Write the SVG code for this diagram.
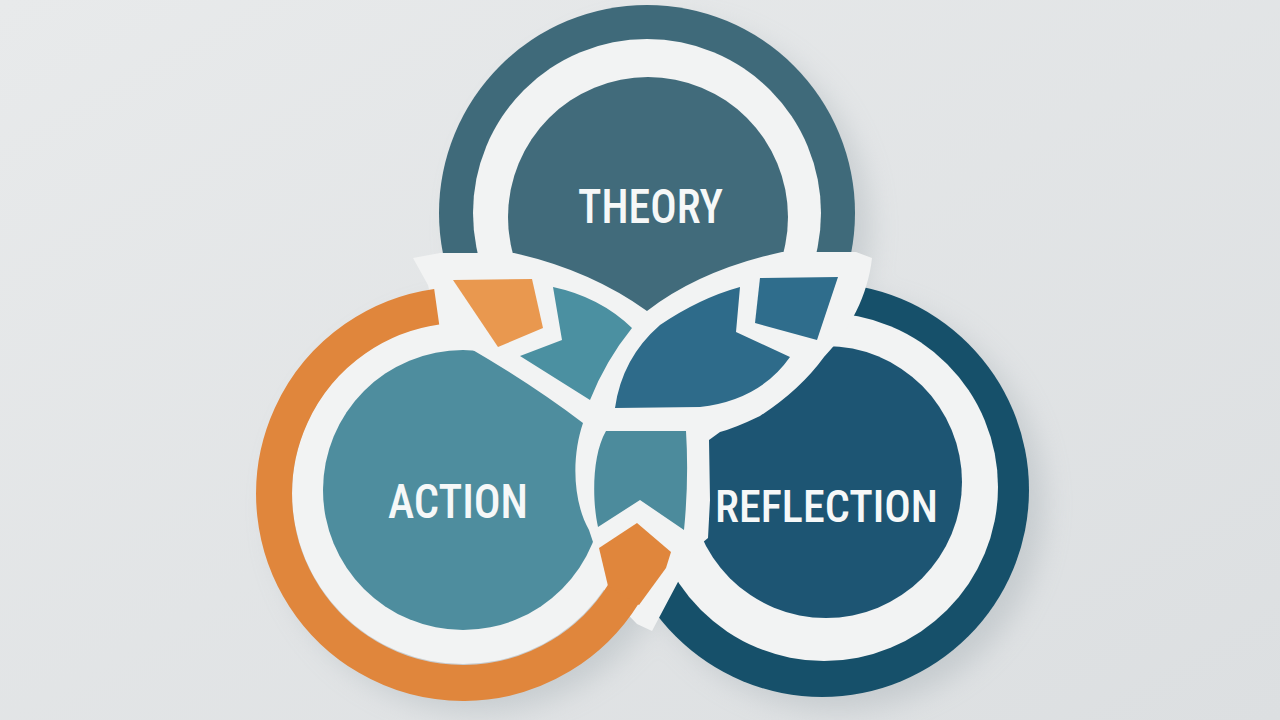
<svg xmlns="http://www.w3.org/2000/svg" width="1280" height="720" viewBox="0 0 1280 720">
<defs>
  <linearGradient id="bg" x1="0" y1="0" x2="1" y2="1">
    <stop offset="0" stop-color="#e8eaeb"/>
    <stop offset="1" stop-color="#dcdfe1"/>
  </linearGradient>
  <filter id="sh" x="-30%" y="-30%" width="160%" height="160%">
    <feGaussianBlur stdDeviation="14"/>
  </filter>
</defs>
<style>
  .white{fill:#f2f3f3}
  .lbl{font-family:"Roboto Condensed","Liberation Sans Narrow","DejaVu Sans Condensed",Roboto,"Liberation Sans",sans-serif;font-weight:500;fill:#f6f8f8;text-anchor:start}
</style>
<rect width="1280" height="720" fill="url(#bg)"/>
<g id="shadows" filter="url(#sh)" fill="#9aa4aa" opacity="0.35">
  <circle cx="838" cy="504" r="206"/>
  <circle cx="478" cy="508" r="204"/>
  <circle cx="664" cy="228" r="206"/>
</g>
<g id="node-reflection">
  <circle cx="822" cy="490" r="207" fill="#16506a"/>
  <circle class="white" cx="824" cy="487" r="174"/>
  <circle cx="826" cy="482" r="136" fill="#1d5573"/>
</g>
<g id="node-action">
  <circle class="white" cx="463" cy="493" r="171"/>
  <circle cx="463" cy="490" r="140" fill="#4e8d9e"/>
</g>
<g id="node-theory">
  <circle cx="647" cy="213" r="208" fill="#3f6a7a"/>
  <circle class="white" cx="647" cy="213" r="174"/>
  <circle cx="648" cy="217" r="140" fill="#416b7b"/>
</g>
<g id="connectors">
  <path id="overlap-white" class="white" d="M413,258 L440,253 L514,253 Q590,270 647,311 Q700,270 782,252 L856,252 L872,258 C868,295 850,330 824,357 Q800,390 760,416 Q735,428 720,432 L709,440 L710,500 L708,538 L696,548 L652,631 L637,624 L604,590 L594,545 L589,530 C572,500 572,455 583,423 Q530,383 466,346 L440,336 L428,285 Z"/>
  <path id="lens-left" d="M553,287 Q600,297 632,328 Q606,360 590,400 Q555,378 520,356 L562,340 Z" fill="#4b90a1"/>
  <path id="lens-right" d="M660,325 Q700,298 740,287 L736,332 L790,357 Q760,400 700,407 L615,408 Q622,358 660,325 Z" fill="#2e6b8a"/>
  <path id="center" d="M606,431 L686,431 Q689,480 684,530 L640,500 L598,527 C592,500 592,455 606,431 Z" fill="#4c8b9c"/>
  <path id="tail-orange" d="M453,280 L532,279 L543,328 L498,347 Z" fill="#e9984f"/>
  <path id="tail-blue" d="M760,278 L838,277 L817,340 L755,323 Z" fill="#2f6d8c"/>
  <path id="ring-orange" d="M623.3,594.2 A189,189 0 1 1 436.7,306.8" fill="none" stroke="#e0863c" stroke-width="36"/>
  <path id="head-orange" d="M599,548 L637,523 L671,552 L666,568 L639,605 L608,586 Z" fill="#e0863c"/>
</g>
<g id="labels">
  <text class="lbl" x="578" y="223" font-size="49" textLength="145" lengthAdjust="spacingAndGlyphs">THEORY</text>
  <text class="lbl" x="388" y="518" font-size="49" textLength="140" lengthAdjust="spacingAndGlyphs">ACTION</text>
  <text class="lbl" x="715" y="522" font-size="45" textLength="223" lengthAdjust="spacingAndGlyphs">REFLECTION</text>
</g>
</svg>
